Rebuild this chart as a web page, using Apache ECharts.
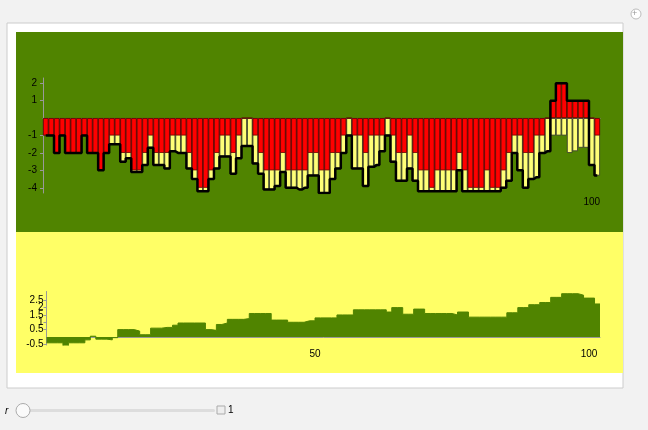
<!DOCTYPE html>
<html>
<head>
<meta charset="utf-8">
<script src="https://cdn.jsdelivr.net/npm/echarts@6/dist/echarts.min.js"></script>
<style>
html,body{margin:0;padding:0;background:#f2f2f2;}
#main{width:648px;height:430px;}
</style>
</head>
<body>
<div id="main"></div>
<script>
// walk values (red) and lagged values (yellow), one per step
var walk = [-1,-1,-2,-1,-2,-2,-2,-1,-2,-2,-3,-2,-1,-1,-2,-2,-3,-3,-2,-1,-2,-2,-2,-1,-1,-1,-2,-3,-4,-4,
	-3,-2,-1,-1,-2,-1,0,0,-1,-2,-3,-3,-3,-2,-3,-3,-3,-3,-2,-2,-3,-3,
	-2,-2,-1,0,-1,-1,-2,-1,-1,-1,0,-1,-2,-2,-1,-2,-3,-3,-4,-3,-3,-3,-3,-2,-3,-4,-4,-4,-3,-4,-4,
	-3,-2,-1,-1,-2,-2,-1,-1,0,1,2,2,1,1,1,1,0,-1];
var lagged = [-1,-1,-2,-1,-2,-2,-2,-1,-2,-2,-3,-2,-1.5,-1.5,-2.5,-2.3,-3.1,-3.1,-2.7,-1.7,-2.7,-2.7,-2.9,-1.9,-2,-2,-2.9,-3.5,-4.2,-4.2,
	-3.5,-2.9,-2.2,-2.2,-3.2,-2.3,-1.6,-1.6,-2.6,-3.2,-4.1,-4.1,-3.9,-3.1,-4,-4,-4.1,-4,-3.3,-3.3,-4.3,-4.3,
	-3.5,-2.9,-2.0,-1.0,-2.9,-2.9,-3.9,-2.8,-2.7,-1.9,-1.0,-2.5,-3.6,-3.6,-2.9,-3.6,-4.2,-4.2,-4.2,-4.2,-4.2,-4.2,-4.2,-3.0,-4.2,-4.2,-4.2,-4.2,-4.2,-4.2,-4.2,
	-4.0,-3.6,-2.0,-3.0,-4.0,-3.5,-3.4,-2.0,-1.9,-1.0,-1.0,-1.0,-2.0,-1.9,-1.7,-1.7,-2.7,-3.3];
// running mean shown in the lower panel
var mean = [-0.4,-0.4,-0.4,-0.65,-0.4,-0.4,-0.4,-0.2,0.05,-0.15,-0.15,-0.2,-0.05,0.5,0.5,0.5,0.4,0.15,0.15,0.6,
	0.6,0.65,0.65,0.8,0.95,0.95,0.95,0.95,0.95,0.5,0.45,0.85,0.95,1.2,1.2,1.2,1.25,1.6,1.6,1.6,
	1.6,1.15,1.15,1.15,1.0,1.0,1.0,1.1,1.1,1.3,1.3,1.3,1.3,1.5,1.5,1.5,1.85,1.85,1.85,1.85,
	1.85,1.85,1.7,2.0,2.0,1.55,1.55,1.9,1.9,1.6,1.6,1.6,1.6,1.6,1.5,1.7,1.7,1.35,1.35,1.35,
	1.35,1.35,1.35,1.35,1.65,1.65,2.0,2.0,2.2,2.2,2.35,2.35,2.7,2.7,2.95,2.95,2.95,2.85,2.65,2.65,2.25];
var topLabels = [-4,-3,-2,-1,1,2];
var bottomLabels = [-0.5,0.5,1.0,1.5,2.0,2.5,3.0];

var steps = walk.map(function (v, i) { return String(i + 1); });
var outline = walk.map(function (v, i) { return v > 0 ? v : Math.min(v, lagged[i]); });
var meanPts = mean.map(function (v, i) { return [i + 1, v]; });
meanPts.push([mean.length + 1, mean[mean.length - 1]]);

var chart = echarts.init(document.getElementById('main'));
var font = {fontFamily: 'Liberation Sans', fontSize: 10, color: '#000'};

chart.setOption({
	animation: false,
	graphic: [
		{type: 'rect', shape: {x: 7, y: 23, width: 616, height: 365}, style: {fill: '#fff', stroke: '#ccc'}, z: -10},
		{type: 'rect', shape: {x: 16, y: 32, width: 607, height: 200}, style: {fill: '#508400'}, z: -9},
		{type: 'rect', shape: {x: 16, y: 232, width: 607, height: 141}, style: {fill: '#ffff66'}, z: -9},
		{type: 'circle', shape: {cx: 636, cy: 14, r: 5}, style: {fill: '#fff', stroke: '#bbb'}},
		{type: 'text', x: 632, y: 9, style: {text: '+', fill: '#999', font: '9px Liberation Sans'}},
		{type: 'text', x: 5, y: 406, style: {text: 'r', fill: '#000', font: 'italic 10px Liberation Sans'}},
		{type: 'rect', shape: {x: 20, y: 409, width: 195, height: 3, r: 1.5}, style: {fill: '#ddd'}},
		{type: 'circle', shape: {cx: 23, cy: 410.5, r: 7}, style: {fill: '#fafafa', stroke: '#aaa'}},
		{type: 'rect', shape: {x: 217, y: 406, width: 8, height: 8}, style: {fill: '#eee', stroke: '#aaa'}},
		{type: 'text', x: 228, y: 405, style: {text: '1', fill: '#000', font: '10px Liberation Sans'}}
	],
	grid: [
		{left: 43, right: 48, top: 78, bottom: 430 - 193},
		{left: 46.5, right: 48, top: 291.5, bottom: 430 - 345}
	],
	xAxis: [
		{
			type: 'category', gridIndex: 0, data: steps,
			axisLine: {lineStyle: {color: '#999'}},
			axisTick: {show: false},
			axisLabel: Object.assign({interval: function (i) { return i === 99; }, margin: 4}, font)
		},
		{
			type: 'value', gridIndex: 1, min: 1, max: 102,
			axisLine: {lineStyle: {color: '#999'}},
			axisTick: {show: false},
			splitLine: {show: false},
			axisLabel: Object.assign({customValues: [50, 100], margin: 4}, font)
		}
	],
	yAxis: [
		{
			type: 'value', gridIndex: 0, min: -4.3, max: 2.3,
			axisLine: {show: true, onZero: false, lineStyle: {color: '#999'}},
			axisTick: {show: true, customValues: topLabels, length: 3, lineStyle: {color: '#999'}},
			splitLine: {show: false},
			axisLabel: Object.assign({customValues: topLabels, margin: 6}, font)
		},
		{
			type: 'value', gridIndex: 1, min: -0.55, max: 3.1,
			axisLine: {show: true, onZero: false, lineStyle: {color: '#999'}},
			axisTick: {show: true, customValues: bottomLabels, length: 3, lineStyle: {color: '#999'}},
			splitLine: {show: false},
			axisLabel: Object.assign({customValues: bottomLabels, margin: 3, lineHeight: 8}, font)
		}
	],
	series: [
		{
			type: 'bar', xAxisIndex: 0, yAxisIndex: 0, data: lagged,
			barWidth: '100%', barGap: '-100%',
			itemStyle: {color: '#ffff77', borderColor: '#333', borderWidth: 0.8}
		},
		{
			type: 'bar', xAxisIndex: 0, yAxisIndex: 0, data: walk,
			barWidth: '100%',
			itemStyle: {color: '#ff0000', borderColor: '#660000', borderWidth: 0.8}
		},
		{
			type: 'line', xAxisIndex: 0, yAxisIndex: 0, data: outline,
			step: 'middle', showSymbol: false,
			lineStyle: {color: '#000', width: 2.5}
		},
		{
			type: 'line', xAxisIndex: 1, yAxisIndex: 1, data: meanPts,
			step: 'end', showSymbol: false,
			lineStyle: {color: '#508400', width: 1},
			areaStyle: {color: '#508400', opacity: 1}
		}
	]
});
</script>
</body>
</html>
